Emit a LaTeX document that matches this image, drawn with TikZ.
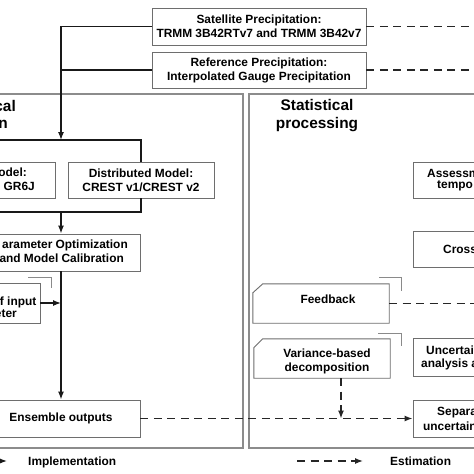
\documentclass[tikz,border=0pt]{standalone}
\usepackage{fontspec}
\setmainfont{Liberation Sans}
\usetikzlibrary{arrows.meta}
\definecolor{boxgray}{HTML}{6E6E6E}
\definecolor{panelgray}{HTML}{8C8C8C}
\definecolor{markgray}{HTML}{8A8A8A}
\newcommand{\dgboxfont}{\fontsize{11.9}{14}\selectfont\bfseries}
\newcommand{\dgtitlefont}{\fontsize{15.4}{18}\selectfont\bfseries}
\begin{document}
\begin{tikzpicture}[x=1pt,y=-1pt,
  bx/.style={draw=boxgray,line width=0.9pt,fill=white,inner sep=0pt,align=center,font=\dgboxfont},
  chbox/.style={inner sep=0pt,align=center,font=\dgboxfont},
  boxline/.style={draw=boxgray,line width=0.9pt},
  lbl/.style={inner sep=0pt,align=center,font=\dgboxfont},
  frag/.style={inner sep=0pt,font=\dgboxfont},
  ttl/.style={inner sep=0pt,align=center,font=\dgtitlefont},
  panel/.style={draw=panelgray,line width=1.1pt},
  conn/.style={draw=black!90,line width=1.3pt},
  arr/.style={conn,-{Latex[length=8pt,width=6pt]}},
  dsh/.style={draw=black!85,line width=1.3pt,dash pattern=on 8pt off 5.5pt},
  darr/.style={dsh,-{Latex[length=8pt,width=6pt]}},
  cornermark/.style={draw=markgray,line width=0.9pt}]
\useasboundingbox (0,0) rectangle (474,474);
\fill[white] (0,0) rectangle (474,474);

% panels
\draw[panel] (-100,94) rectangle (243,448);
\draw[panel] (249,94) rectangle (560,448);

% titles
\node[ttl,anchor=base east] (lt1) at (16,111) {cal};
\node[ttl,anchor=base east] (lt2) at (8,128) {n};
\node[ttl] (stat) at (317,115.5) {Statistical\\processing};

% precipitation inputs
\node[bx,minimum width=214pt,minimum height=37pt] (sat) at (259,26.5) {Satellite Precipitation:\\TRMM 3B42RTv7 and TRMM 3B42v7};
\node[bx,minimum width=214pt,minimum height=36pt] (ref) at (259,70) {Reference Precipitation:\\Interpolated Gauge Precipitation};

\coordinate (topjoin) at (61,140);
\coordinate (botjoin) at (61,212);
\coordinate (sensjoin) at (61,303);

% models
\node[bx,minimum width=146pt,minimum height=36pt] (lump) at (-18,180) {};
\node[frag,anchor=base east] (lumpa) at (27,176) {odel:};
\node[frag,anchor=base east] (lumpb) at (35,190) {GR6J};
\node[bx,minimum width=146pt,minimum height=36pt] (dist) at (141,180) {Distributed Model:\\CREST v1/CREST v2};

\node[bx,minimum width=158pt,minimum height=37pt] (param) at (61,252.5) {};
\node[frag,anchor=base east] (parama) at (128,248) {arameter Optimization};
\node[frag,anchor=base east] (paramb) at (124,262) {and Model Calibration};

\node[bx,minimum width=160pt,minimum height=40pt] (sens) at (-40,303) {};
\node[frag,anchor=base east] (sensa) at (36.5,305) {f input};
\node[frag,anchor=base east] (sensb) at (17,317) {eter};
\draw[cornermark] (28,277) -- (51,277) -- (51,288);

\node[bx,minimum width=158pt,minimum height=37pt] (ens) at (61,418.5) {Ensemble outputs};

% connectors (implementation)
\draw[arr] (sat.west) -| (topjoin);
\draw[conn] (ref.west) -- (ref.west -| topjoin);
\draw[conn] (lump.north) |- (topjoin) -| (dist.north);
\draw[conn] (lump.south) |- (botjoin) -| (dist.south);
\draw[arr] (botjoin) -- (param.north);
\draw[arr] (sens.east) -- (sensjoin);
\draw[arr] (param.south) -- (ens.north);

% right panel boxes
\node[bx,minimum width=150pt,minimum height=36pt] (assess) at (488,180) {};
\node[frag,anchor=base west] (assessa) at (427,177) {Assessm};
\node[frag,anchor=base west] (assessb) at (437,188) {tempo};

\node[bx,minimum width=150pt,minimum height=36pt] (cross) at (488,249) {};
\node[frag,anchor=base west] (crossa) at (443,253) {Cross};

\node[bx,minimum width=150pt,minimum height=38pt] (unc) at (488,357) {};
\node[frag,anchor=base west] (unca) at (426,354) {Uncertai};
\node[frag,anchor=base west] (uncb) at (421,367) {analysis a};

\node[bx,minimum width=150pt,minimum height=37pt] (sep) at (488,418.5) {};
\node[frag,anchor=base west] (sepa) at (437,415) {Separa};
\node[frag,anchor=base west] (sepb) at (423,430) {uncertain};

% chamfered boxes
\node[chbox,minimum width=136pt,minimum height=39pt,
  label={[lbl,xshift=7pt,yshift=4.5pt]center:Feedback}] (fb) at (321,303.5) {};
\draw[boxline] ([yshift=-9pt]fb.north west) -- ([xshift=10pt]fb.north west) -- (fb.north east) -- (fb.south east) -- (fb.south west) -- cycle;
\draw[cornermark] (379,277) -- (401,277) -- (401,291);

\node[chbox,minimum width=136pt,minimum height=39pt,
  label={[lbl,xshift=5pt,yshift=-2.5pt]center:Variance-based\\decomposition}] (var) at (322,358.5) {};
\draw[boxline] ([yshift=-9pt]var.north west) -- ([xshift=9pt]var.north west) -- (var.north east) -- (var.south east) -- (var.south west) -- cycle;
\draw[cornermark] (378,333) -- (401,333) -- (401,346);

% estimation connectors
\coordinate (satend) at (490,26.5);
\coordinate (refend) at (490,70);
\coordinate (fbend) at (490,303.5);
\draw[dsh] (sat.east) -- (satend);
\draw[dsh] (ref.east) -- (refend);
\draw[dsh] (fb.east) -- (fbend);
\draw[darr] (ens.east) -- (sep.west);
\draw[darr] ([xshift=19pt]var.south) -- ([xshift=19pt]var.south |- sep.west);

% legend
\coordinate (legas) at (-30,461);
\coordinate (legae) at (7,461);
\draw[arr] (legas) -- (legae);
\node[frag,anchor=base west] (impl) at (28,465.5) {Implementation};
\coordinate (legbs) at (297,461);
\coordinate (legbe) at (363,461);
\draw[darr] (legbs) -- (legbe);
\node[frag,anchor=base west] (est) at (390,465.5) {Estimation};
\end{tikzpicture}
\end{document}
